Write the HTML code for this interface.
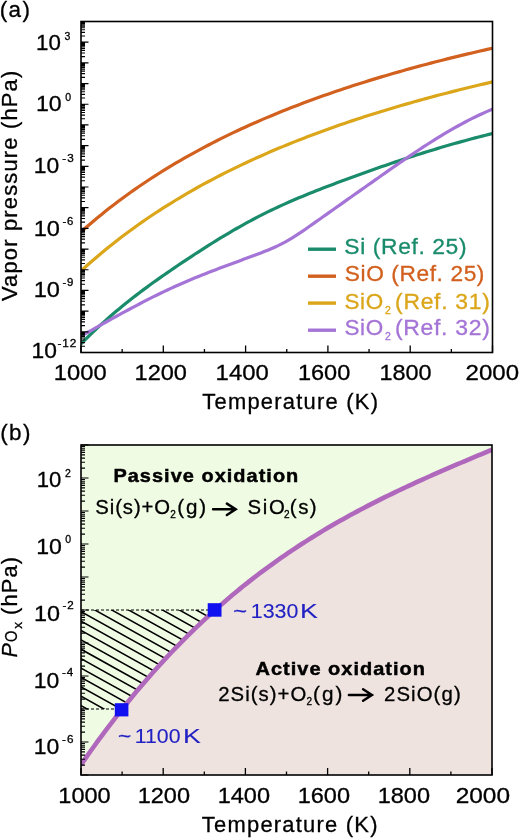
<!DOCTYPE html><html><head><meta charset="utf-8"><style>html,body{margin:0;padding:0;background:#fff;}svg{display:block;}text{font-family:"Liberation Sans",Arial,sans-serif;stroke:currentColor;stroke-width:0.3px;}</style></head><body>
<svg width="520" height="839" viewBox="0 0 520 839">
<rect width="520" height="839" fill="#fff"/>
<clipPath id="ca"><rect x="81.0" y="21.5" width="411.5" height="331.0"/></clipPath>
<g fill="none" stroke-linejoin="round" stroke-width="3.2" clip-path="url(#ca)">
<polyline stroke="#d2601e" points="81,231.88 85.11,228.24 89.23,224.68 93.34,221.18 97.46,217.75 101.58,214.39 105.69,211.09 109.81,207.85 113.92,204.67 118.03,201.55 122.15,198.49 126.27,195.48 130.38,192.52 134.5,189.62 138.61,186.77 142.72,183.97 146.84,181.22 150.95,178.51 155.07,175.85 159.19,173.23 163.3,170.66 167.42,168.13 171.53,165.64 175.64,163.2 179.76,160.79 183.88,158.42 187.99,156.09 192.11,153.79 196.22,151.53 200.33,149.31 204.45,147.12 208.56,144.96 212.68,142.84 216.79,140.74 220.91,138.68 225.03,136.65 229.14,134.65 233.25,132.68 237.37,130.74 241.49,128.82 245.6,126.94 249.72,125.08 253.83,123.24 257.94,121.43 262.06,119.65 266.18,117.89 270.29,116.16 274.4,114.44 278.52,112.76 282.63,111.09 286.75,109.45 290.87,107.83 294.98,106.22 299.1,104.65 303.21,103.09 307.32,101.55 311.44,100.03 315.56,98.53 319.67,97.05 323.78,95.59 327.9,94.14 332.01,92.72 336.13,91.31 340.25,89.92 344.36,88.54 348.48,87.19 352.59,85.85 356.7,84.52 360.82,83.21 364.94,81.92 369.05,80.64 373.17,79.38 377.28,78.13 381.39,76.89 385.51,75.67 389.62,74.47 393.74,73.27 397.86,72.09 401.97,70.93 406.08,69.78 410.2,68.64 414.31,67.51 418.43,66.39 422.55,65.29 426.66,64.2 430.77,63.12 434.89,62.05 439,61 443.12,59.95 447.24,58.92 451.35,57.9 455.46,56.88 459.58,55.88 463.69,54.89 467.81,53.91 471.93,52.94 476.04,51.98 480.15,51.03 484.27,50.09 488.38,49.15 492.5,48.23"/>
<polyline stroke="#dba61a" points="81,270.95 85.11,267.2 89.23,263.53 93.34,259.94 97.46,256.41 101.58,252.94 105.69,249.55 109.81,246.21 113.92,242.94 118.03,239.73 122.15,236.58 126.27,233.48 130.38,230.44 134.5,227.46 138.61,224.52 142.72,221.64 146.84,218.8 150.95,216.02 155.07,213.28 159.19,210.59 163.3,207.94 167.42,205.34 171.53,202.78 175.64,200.26 179.76,197.78 183.88,195.34 187.99,192.94 192.11,190.58 196.22,188.25 200.33,185.96 204.45,183.71 208.56,181.49 212.68,179.3 216.79,177.15 220.91,175.03 225.03,172.94 229.14,170.88 233.25,168.85 237.37,166.85 241.49,164.88 245.6,162.94 249.72,161.02 253.83,159.13 257.94,157.27 262.06,155.44 266.18,153.63 270.29,151.84 274.4,150.08 278.52,148.34 282.63,146.63 286.75,144.93 290.87,143.27 294.98,141.62 299.1,139.99 303.21,138.39 307.32,136.8 311.44,135.24 315.56,133.7 319.67,132.17 323.78,130.67 327.9,129.18 332.01,127.72 336.13,126.27 340.25,124.83 344.36,123.42 348.48,122.02 352.59,120.64 356.7,119.28 360.82,117.93 364.94,116.6 369.05,115.29 373.17,113.98 377.28,112.7 381.39,111.43 385.51,110.17 389.62,108.93 393.74,107.7 397.86,106.49 401.97,105.29 406.08,104.1 410.2,102.93 414.31,101.77 418.43,100.62 422.55,99.49 426.66,98.37 430.77,97.25 434.89,96.16 439,95.07 443.12,93.99 447.24,92.93 451.35,91.88 455.46,90.84 459.58,89.8 463.69,88.78 467.81,87.78 471.93,86.78 476.04,85.79 480.15,84.81 484.27,83.84 488.38,82.88 492.5,81.93"/>
<polyline stroke="#1a8c6c" points="81,343.92 84.46,340.43 87.92,337 91.37,333.64 94.83,330.34 98.29,327.11 101.75,323.94 105.21,320.83 108.66,317.77 112.12,314.77 115.58,311.83 119.04,308.93 122.5,306.08 125.95,303.28 129.41,300.52 132.87,297.81 136.33,295.14 139.79,292.5 143.24,289.9 146.7,287.34 150.16,284.81 153.62,282.31 157.08,279.84 160.53,277.4 163.99,274.98 167.45,272.58 170.91,270.21 174.37,267.85 177.82,265.51 181.28,263.19 184.74,260.88 188.2,258.58 191.66,256.3 195.11,254.03 198.57,251.79 202.03,249.56 205.49,247.35 208.95,245.16 212.4,242.99 215.86,240.85 219.32,238.73 222.78,236.63 226.24,234.55 229.69,232.51 233.15,230.48 236.61,228.49 240.07,226.52 243.53,224.59 246.98,222.68 250.44,220.81 253.9,218.97 257.36,217.16 260.82,215.38 264.27,213.64 267.73,211.93 271.19,210.25 274.65,208.61 278.11,206.99 281.56,205.4 285.02,203.84 288.48,202.31 291.94,200.8 295.39,199.31 298.85,197.84 302.31,196.4 305.77,194.98 309.23,193.57 312.68,192.18 316.14,190.81 319.6,189.45 323.06,188.11 326.52,186.78 329.97,185.46 333.43,184.15 336.89,182.85 340.35,181.55 343.81,180.27 347.26,178.99 350.72,177.71 354.18,176.45 357.64,175.19 361.1,173.93 364.55,172.69 368.01,171.45 371.47,170.22 374.93,169 378.39,167.79 381.84,166.59 385.3,165.39 388.76,164.21 392.22,163.03 395.68,161.86 399.13,160.7 402.59,159.55 406.05,158.41 409.51,157.28 412.97,156.16 416.42,155.05 419.88,153.95 423.34,152.86 426.8,151.78 430.26,150.72 433.71,149.66 437.17,148.62 440.63,147.58 444.09,146.56 447.55,145.55 451,144.55 454.46,143.56 457.92,142.59 461.38,141.63 464.84,140.68 468.29,139.74 471.75,138.82 475.21,137.91 478.67,137.01 482.13,136.13 485.58,135.26 489.04,134.4 492.5,133.56"/>
<polyline stroke="#a474d6" points="81,336.19 84.46,334.22 87.92,332.25 91.37,330.29 94.83,328.33 98.29,326.37 101.75,324.43 105.21,322.49 108.66,320.56 112.12,318.64 115.58,316.73 119.04,314.83 122.5,312.95 125.95,311.07 129.41,309.22 132.87,307.37 136.33,305.55 139.79,303.74 143.24,301.95 146.7,300.17 150.16,298.42 153.62,296.69 157.08,294.98 160.53,293.29 163.99,291.63 167.45,289.99 170.91,288.38 174.37,286.79 177.82,285.23 181.28,283.7 184.74,282.2 188.2,280.72 191.66,279.27 195.11,277.84 198.57,276.44 202.03,275.05 205.49,273.68 208.95,272.33 212.4,271 215.86,269.67 219.32,268.36 222.78,267.06 226.24,265.77 229.69,264.48 233.15,263.2 236.61,261.92 240.07,260.64 243.53,259.37 246.98,258.09 250.44,256.8 253.9,255.51 257.36,254.22 260.82,252.9 264.27,251.56 267.73,250.17 271.19,248.72 274.65,247.2 278.11,245.59 281.56,243.88 285.02,242.06 288.48,240.11 291.94,238.04 295.39,235.88 298.85,233.64 302.31,231.32 305.77,228.95 309.23,226.54 312.68,224.11 316.14,221.66 319.6,219.22 323.06,216.78 326.52,214.33 329.97,211.89 333.43,209.45 336.89,207.01 340.35,204.57 343.81,202.12 347.26,199.68 350.72,197.24 354.18,194.8 357.64,192.36 361.1,189.92 364.55,187.48 368.01,185.04 371.47,182.59 374.93,180.15 378.39,177.72 381.84,175.28 385.3,172.85 388.76,170.43 392.22,168.02 395.68,165.61 399.13,163.22 402.59,160.85 406.05,158.48 409.51,156.14 412.97,153.81 416.42,151.51 419.88,149.22 423.34,146.96 426.8,144.72 430.26,142.51 433.71,140.33 437.17,138.18 440.63,136.06 444.09,133.98 447.55,131.93 451,129.91 454.46,127.94 457.92,126 461.38,124.1 464.84,122.25 468.29,120.44 471.75,118.68 475.21,116.97 478.67,115.31 482.13,113.69 485.58,112.14 489.04,110.63 492.5,109.18"/>
</g>
<line x1="308" y1="249.2" x2="336" y2="249.2" stroke="#1a8c6c" stroke-width="3.4"/>
<line x1="308" y1="276.2" x2="336" y2="276.2" stroke="#d2601e" stroke-width="3.4"/>
<line x1="308" y1="303.1" x2="336" y2="303.1" stroke="#dba61a" stroke-width="3.4"/>
<line x1="308" y1="330.2" x2="336" y2="330.2" stroke="#a474d6" stroke-width="3.4"/>
<text transform="translate(344.37,254.4) scale(1.0624,1)" font-size="21.5" fill="#1a8c6c" color="#1a8c6c" letter-spacing="0.57">Si (Ref. 25)</text>
<text transform="translate(344.78,281.3) scale(1.0573,1)" font-size="21.5" fill="#d2601e" color="#d2601e" letter-spacing="0.56">SiO (Ref. 25)</text>
<text transform="translate(344.39,308.6) scale(1.0449,1)" font-size="21.5" fill="#dba61a" color="#dba61a" letter-spacing="0.73">SiO</text>
<text transform="translate(385.09,313.5)" font-size="10.5" fill="#dba61a" color="#dba61a">2</text>
<text transform="translate(395.12,308.6) scale(1.0677,1)" font-size="21.5" fill="#dba61a" color="#dba61a" letter-spacing="0.64">(Ref. 31)</text>
<text transform="translate(344.39,335.4) scale(1.0449,1)" font-size="21.5" fill="#a474d6" color="#a474d6" letter-spacing="0.73">SiO</text>
<text transform="translate(385.09,340.2)" font-size="10.5" fill="#a474d6" color="#a474d6">2</text>
<text transform="translate(394.92,335.4) scale(1.0689,1)" font-size="21.5" fill="#a474d6" color="#a474d6" letter-spacing="0.65">(Ref. 32)</text>
<g stroke="#000" fill="none">
<path stroke-width="1.15" d="M81 352.5h7.5 M81 346.27h4 M81 342.63h4 M81 340.04h4 M81 338.04h4 M81 336.4h4 M81 335.02h4 M81 333.82h4 M81 332.76h4 M81 331.81h7.5 M81 325.58h4 M81 321.94h4 M81 319.36h4 M81 317.35h4 M81 315.71h4 M81 314.33h4 M81 313.13h4 M81 312.07h4 M81 311.12h7.5 M81 304.9h4 M81 301.25h4 M81 298.67h4 M81 296.67h4 M81 295.03h4 M81 293.64h4 M81 292.44h4 M81 291.38h4 M81 290.44h7.5 M81 284.21h4 M81 280.57h4 M81 277.98h4 M81 275.98h4 M81 274.34h4 M81 272.95h4 M81 271.75h4 M81 270.7h4 M81 269.75h7.5 M81 263.52h4 M81 259.88h4 M81 257.29h4 M81 255.29h4 M81 253.65h4 M81 252.27h4 M81 251.07h4 M81 250.01h4 M81 249.06h7.5 M81 242.83h4 M81 239.19h4 M81 236.61h4 M81 234.6h4 M81 232.96h4 M81 231.58h4 M81 230.38h4 M81 229.32h4 M81 228.38h7.5 M81 222.15h4 M81 218.5h4 M81 215.92h4 M81 213.92h4 M81 212.28h4 M81 210.89h4 M81 209.69h4 M81 208.63h4 M81 207.69h7.5 M81 201.46h4 M81 197.82h4 M81 195.23h4 M81 193.23h4 M81 191.59h4 M81 190.2h4 M81 189h4 M81 187.95h4 M81 187h7.5 M81 180.77h4 M81 177.13h4 M81 174.54h4 M81 172.54h4 M81 170.9h4 M81 169.52h4 M81 168.32h4 M81 167.26h4 M81 166.31h7.5 M81 160.08h4 M81 156.44h4 M81 153.86h4 M81 151.85h4 M81 150.21h4 M81 148.83h4 M81 147.63h4 M81 146.57h4 M81 145.62h7.5 M81 139.4h4 M81 135.75h4 M81 133.17h4 M81 131.17h4 M81 129.53h4 M81 128.14h4 M81 126.94h4 M81 125.88h4 M81 124.94h7.5 M81 118.71h4 M81 115.07h4 M81 112.48h4 M81 110.48h4 M81 108.84h4 M81 107.45h4 M81 106.25h4 M81 105.2h4 M81 104.25h7.5 M81 98.02h4 M81 94.38h4 M81 91.79h4 M81 89.79h4 M81 88.15h4 M81 86.77h4 M81 85.57h4 M81 84.51h4 M81 83.56h7.5 M81 77.33h4 M81 73.69h4 M81 71.11h4 M81 69.1h4 M81 67.46h4 M81 66.08h4 M81 64.88h4 M81 63.82h4 M81 62.88h7.5 M81 56.65h4 M81 53h4 M81 50.42h4 M81 48.42h4 M81 46.78h4 M81 45.39h4 M81 44.19h4 M81 43.13h4 M81 42.19h7.5 M81 35.96h4 M81 32.32h4 M81 29.73h4 M81 27.73h4 M81 26.09h4 M81 24.7h4 M81 23.5h4 M81 22.45h4 M81 21.5h7.5"/>
<path stroke-width="1.3" d="M81 352.5v-7 M122.15 352.5v-3.5 M163.3 352.5v-7 M204.45 352.5v-3.5 M245.6 352.5v-7 M286.75 352.5v-3.5 M327.9 352.5v-7 M369.05 352.5v-3.5 M410.2 352.5v-7 M451.35 352.5v-3.5 M492.5 352.5v-7"/>
</g>
<rect x="81.0" y="21.5" width="411.5" height="331.0" stroke-width="1.6" stroke="#000" fill="none"/>
<text transform="translate(36.03,50.3) scale(1.0372,1)" font-size="21.5">10</text>
<text transform="translate(64.39,39.8)" font-size="10.5">3</text>
<text transform="translate(35.97,111.4) scale(1.0744,1)" font-size="21.5">10</text>
<text transform="translate(65.36,100.5)" font-size="10.5">0</text>
<text transform="translate(33.68,172.6) scale(1.0651,1)" font-size="21.5">10</text>
<text transform="translate(62.37,162) scale(1.1152,1)" font-size="10.5" letter-spacing="0.87">-3</text>
<text transform="translate(33.63,236) scale(1.0977,1)" font-size="21.5">10</text>
<text transform="translate(62.49,225.1) scale(1.0856,1)" font-size="10.5" letter-spacing="0.67">-6</text>
<text transform="translate(33.63,297.2) scale(1.0977,1)" font-size="21.5">10</text>
<text transform="translate(62.49,286.2) scale(1.0893,1)" font-size="10.5" letter-spacing="0.69">-9</text>
<text transform="translate(31.49,358.1) scale(1.0605,1)" font-size="21.5">10</text>
<text transform="translate(57.57,347.2) scale(1.1243,1)" font-size="10.5" letter-spacing="0.78">-12</text>
<text transform="translate(53.82,379.8) scale(1.0789,1)" font-size="22">1000</text>
<text transform="translate(134.53,379.8) scale(1.0724,1)" font-size="22">1200</text>
<text transform="translate(215.61,379.8) scale(1.0853,1)" font-size="22">1400</text>
<text transform="translate(297.93,379.8) scale(1.0703,1)" font-size="22">1600</text>
<text transform="translate(379.44,379.8) scale(1.066,1)" font-size="22">1800</text>
<text transform="translate(465.6,379.8) scale(1.0918,1)" font-size="22">2000</text>
<text transform="translate(202.26,408.8) scale(1.02,1)" font-size="21.5" letter-spacing="1.22">Temperature (K)</text>
<text transform="translate(17.3,301.11) rotate(-90) scale(1.0196,1)" font-size="21.5" letter-spacing="1.16">Vapor pressure (hPa)</text>
<text transform="translate(-0.35,17.2) scale(1.0217,1)" font-size="22" letter-spacing="1.46">(a)</text>
<rect x="81.0" y="445.0" width="411.0" height="330.0" fill="#efe3df"/>
<polygon fill="#f0fbe4" points="81,445 492,445 492,449.69 488.55,451.13 485.09,452.57 481.64,454.02 478.18,455.46 474.73,456.91 471.28,458.37 467.82,459.82 464.37,461.28 460.92,462.75 457.46,464.22 454.01,465.7 450.55,467.18 447.1,468.67 443.65,470.16 440.19,471.67 436.74,473.18 433.29,474.7 429.83,476.23 426.38,477.77 422.92,479.32 419.47,480.88 416.02,482.46 412.56,484.04 409.11,485.63 405.66,487.24 402.2,488.86 398.75,490.5 395.29,492.15 391.84,493.81 388.39,495.49 384.93,497.18 381.48,498.89 378.03,500.62 374.57,502.36 371.12,504.13 367.66,505.9 364.21,507.7 360.76,509.52 357.3,511.36 353.85,513.21 350.39,515.09 346.94,516.99 343.49,518.9 340.03,520.85 336.58,522.81 333.13,524.79 329.67,526.8 326.22,528.84 322.76,530.9 319.31,532.98 315.86,535.09 312.4,537.22 308.95,539.38 305.5,541.57 302.04,543.78 298.59,546.02 295.13,548.29 291.68,550.59 288.23,552.92 284.77,555.28 281.32,557.67 277.87,560.09 274.41,562.54 270.96,565.02 267.5,567.54 264.05,570.08 260.6,572.67 257.14,575.28 253.69,577.93 250.24,580.61 246.78,583.33 243.33,586.08 239.87,588.87 236.42,591.7 232.97,594.57 229.51,597.47 226.06,600.41 222.61,603.39 219.15,606.4 215.7,609.46 212.24,612.56 208.79,615.69 205.34,618.87 201.88,622.09 198.43,625.36 194.97,628.66 191.52,632.01 188.07,635.4 184.61,638.84 181.16,642.32 177.71,645.84 174.25,649.41 170.8,653.03 167.34,656.69 163.89,660.4 160.44,664.16 156.98,667.96 153.53,671.82 150.08,675.72 146.62,679.67 143.17,683.67 139.71,687.73 136.26,691.83 132.81,695.98 129.35,700.19 125.9,704.45 122.45,708.76 118.99,713.13 115.54,717.55 112.08,722.02 108.63,726.55 105.18,731.13 101.72,735.77 98.27,740.46 94.82,745.22 91.36,750.03 87.91,754.89 84.45,759.82 81,764.8 81,775"/>
<clipPath id="ch"><polygon points="81,610 215.09,610 212.24,612.56 208.79,615.69 205.34,618.87 201.88,622.09 198.43,625.36 194.97,628.66 191.52,632.01 188.07,635.4 184.61,638.84 181.16,642.32 177.71,645.84 174.25,649.41 170.8,653.03 167.34,656.69 163.89,660.4 160.44,664.16 156.98,667.96 153.53,671.82 150.08,675.72 146.62,679.67 143.17,683.67 139.71,687.73 136.26,691.83 132.81,695.98 129.35,700.19 125.9,704.45 122.45,708.76 122.26,709 81,709"/></clipPath>
<path clip-path="url(#ch)" stroke="#000" stroke-width="1.55" fill="none" d="M70 708.91L260 814.55 M70 699.52L260 805.16 M70 690.12L260 795.76 M70 680.72L260 786.36 M70 671.33L260 776.97 M70 661.93L260 767.57 M70 652.53L260 758.17 M70 643.14L260 748.78 M70 633.74L260 739.38 M70 624.34L260 729.98 M70 614.95L260 720.59 M70 605.55L260 711.19 M70 596.16L260 701.8 M70 586.76L260 692.4 M70 577.36L260 683 M70 567.97L260 673.61 M70 558.57L260 664.21 M70 549.17L260 654.81 M70 539.78L260 645.42 M70 530.38L260 636.02 M70 520.98L260 626.62 M70 511.59L260 617.23 M70 502.19L260 607.83 M70 492.8L260 598.44 M70 483.4L260 589.04 M70 474L260 579.64"/>
<path stroke="#000" stroke-width="1" stroke-dasharray="3 2" fill="none" d="M81 610H215.09 M81 709H122.26"/>
<clipPath id="cb"><rect x="81.0" y="445.0" width="411.0" height="330.0"/></clipPath>
<polyline clip-path="url(#cb)" fill="none" stroke="#b068bc" stroke-width="4.6" stroke-linejoin="round" points="81,764.8 84.45,759.82 87.91,754.89 91.36,750.03 94.82,745.22 98.27,740.46 101.72,735.77 105.18,731.13 108.63,726.55 112.08,722.02 115.54,717.55 118.99,713.13 122.45,708.76 125.9,704.45 129.35,700.19 132.81,695.98 136.26,691.83 139.71,687.73 143.17,683.67 146.62,679.67 150.08,675.72 153.53,671.82 156.98,667.96 160.44,664.16 163.89,660.4 167.34,656.69 170.8,653.03 174.25,649.41 177.71,645.84 181.16,642.32 184.61,638.84 188.07,635.4 191.52,632.01 194.97,628.66 198.43,625.36 201.88,622.09 205.34,618.87 208.79,615.69 212.24,612.56 215.7,609.46 219.15,606.4 222.61,603.39 226.06,600.41 229.51,597.47 232.97,594.57 236.42,591.7 239.87,588.87 243.33,586.08 246.78,583.33 250.24,580.61 253.69,577.93 257.14,575.28 260.6,572.67 264.05,570.08 267.5,567.54 270.96,565.02 274.41,562.54 277.87,560.09 281.32,557.67 284.77,555.28 288.23,552.92 291.68,550.59 295.13,548.29 298.59,546.02 302.04,543.78 305.5,541.57 308.95,539.38 312.4,537.22 315.86,535.09 319.31,532.98 322.76,530.9 326.22,528.84 329.67,526.8 333.13,524.79 336.58,522.81 340.03,520.85 343.49,518.9 346.94,516.99 350.39,515.09 353.85,513.21 357.3,511.36 360.76,509.52 364.21,507.7 367.66,505.9 371.12,504.13 374.57,502.36 378.03,500.62 381.48,498.89 384.93,497.18 388.39,495.49 391.84,493.81 395.29,492.15 398.75,490.5 402.2,488.86 405.66,487.24 409.11,485.63 412.56,484.04 416.02,482.46 419.47,480.88 422.92,479.32 426.38,477.77 429.83,476.23 433.29,474.7 436.74,473.18 440.19,471.67 443.65,470.16 447.1,468.67 450.55,467.18 454.01,465.7 457.46,464.22 460.92,462.75 464.37,461.28 467.82,459.82 471.28,458.37 474.73,456.91 478.18,455.46 481.64,454.02 485.09,452.57 488.55,451.13 492,449.69"/>
<rect x="114.8" y="703.2" width="13.6" height="13.2" fill="#1010f0"/>
<rect x="207.7" y="603.2" width="13.8" height="13.5" fill="#1010f0"/>
<g stroke="#000" fill="none">
<rect x="81.0" y="445.0" width="411.0" height="330.0" stroke-width="1.6"/>
<path stroke-width="1.15" d="M81 775h7.5 M81 765.07h4 M81 759.25h4 M81 755.13h4 M81 751.93h4 M81 749.32h4 M81 747.11h4 M81 745.2h4 M81 743.51h4 M81 742h7.5 M81 732.07h4 M81 726.25h4 M81 722.13h4 M81 718.93h4 M81 716.32h4 M81 714.11h4 M81 712.2h4 M81 710.51h4 M81 709h7.5 M81 699.07h4 M81 693.25h4 M81 689.13h4 M81 685.93h4 M81 683.32h4 M81 681.11h4 M81 679.2h4 M81 677.51h4 M81 676h7.5 M81 666.07h4 M81 660.25h4 M81 656.13h4 M81 652.93h4 M81 650.32h4 M81 648.11h4 M81 646.2h4 M81 644.51h4 M81 643h7.5 M81 633.07h4 M81 627.25h4 M81 623.13h4 M81 619.93h4 M81 617.32h4 M81 615.11h4 M81 613.2h4 M81 611.51h4 M81 610h7.5 M81 600.07h4 M81 594.25h4 M81 590.13h4 M81 586.93h4 M81 584.32h4 M81 582.11h4 M81 580.2h4 M81 578.51h4 M81 577h7.5 M81 567.07h4 M81 561.25h4 M81 557.13h4 M81 553.93h4 M81 551.32h4 M81 549.11h4 M81 547.2h4 M81 545.51h4 M81 544h7.5 M81 534.07h4 M81 528.25h4 M81 524.13h4 M81 520.93h4 M81 518.32h4 M81 516.11h4 M81 514.2h4 M81 512.51h4 M81 511h7.5 M81 501.07h4 M81 495.25h4 M81 491.13h4 M81 487.93h4 M81 485.32h4 M81 483.11h4 M81 481.2h4 M81 479.51h4 M81 478h7.5 M81 468.07h4 M81 462.25h4 M81 458.13h4 M81 454.93h4 M81 452.32h4 M81 450.11h4 M81 448.2h4 M81 446.51h4 M81 445h7.5"/>
<path stroke-width="1.3" d="M81 775v-7 M122.1 775v-3.5 M163.2 775v-7 M204.3 775v-3.5 M245.4 775v-7 M286.5 775v-3.5 M327.6 775v-7 M368.7 775v-3.5 M409.8 775v-7 M450.9 775v-3.5 M492 775v-7"/>
</g>
<text transform="translate(36.64,487.2) scale(1.0279,1)" font-size="21.5">10</text>
<text transform="translate(64.94,476.8)" font-size="10.5">2</text>
<text transform="translate(36.17,553.6) scale(1.0744,1)" font-size="21.5">10</text>
<text transform="translate(65.26,543)" font-size="10.5">0</text>
<text transform="translate(34.04,620.5) scale(1.0884,1)" font-size="21.5">10</text>
<text transform="translate(62.48,609.4) scale(1.111,1)" font-size="10.5" letter-spacing="0.83">-2</text>
<text transform="translate(33.67,687.5) scale(1.0698,1)" font-size="21.5">10</text>
<text transform="translate(62.08,676.2) scale(1.1077,1)" font-size="10.5" letter-spacing="0.83">-4</text>
<text transform="translate(33.67,753.8) scale(1.0698,1)" font-size="21.5">10</text>
<text transform="translate(62.07,743) scale(1.1152,1)" font-size="10.5" letter-spacing="0.87">-6</text>
<text transform="translate(58.33,802.9) scale(1.0703,1)" font-size="22">1000</text>
<text transform="translate(137.63,802.9) scale(1.0703,1)" font-size="22">1200</text>
<text transform="translate(217.63,802.9) scale(1.0703,1)" font-size="22">1400</text>
<text transform="translate(297.63,802.9) scale(1.0703,1)" font-size="22">1600</text>
<text transform="translate(377.63,802.9) scale(1.0703,1)" font-size="22">1800</text>
<text transform="translate(455.68,802.9) scale(1.1109,1)" font-size="22">2000</text>
<text transform="translate(201.86,832.3) scale(1.0198,1)" font-size="21.5" letter-spacing="1.21">Temperature (K)</text>
<text transform="translate(0.15,439.6) scale(1.0217,1)" font-size="22" letter-spacing="1.46">(b)</text>
<text transform="translate(17.3,657.42) rotate(-90)" font-size="21.5" font-style="italic">P</text>
<text transform="translate(17.2,642.06) rotate(-90) scale(0.8848,1)" font-size="16.5">O</text>
<text transform="translate(21.7,628.74) rotate(-90) scale(1.0185,1)" font-size="13.5">x</text>
<text transform="translate(17.3,614.91) rotate(-90) scale(1.016,1)" font-size="21.5" letter-spacing="1.11">(hPa)</text>
<text transform="translate(113.4,481.8) scale(1.109,1)" font-size="18" font-weight="bold" letter-spacing="0.92" style="stroke-width:0.45px">Passive oxidation</text>
<text transform="translate(95.29,514) scale(1.0147,1)" font-size="20" letter-spacing="0.91">Si(s)+O</text>
<text transform="translate(170.3,518)" font-size="10">2</text>
<text transform="translate(177.26,514) scale(1.0293,1)" font-size="20" letter-spacing="1.78">(g)</text>
<path d="M213.1 509.3H235.5 M226.9 503.6L235.7 509.3L226.9 515" stroke="#000" stroke-width="2.5" fill="none" stroke-linejoin="miter" stroke-linecap="round"/>
<text transform="translate(247.58,514) scale(1.0181,1)" font-size="20" letter-spacing="1.59">SiO</text>
<text transform="translate(284.1,518)" font-size="10">2</text>
<text transform="translate(289.87,514) scale(1.0244,1)" font-size="20" letter-spacing="1.41">(s)</text>
<text transform="translate(255.5,675.4) scale(1.1105,1)" font-size="18" font-weight="bold" letter-spacing="0.91" style="stroke-width:0.45px">Active oxidation</text>
<text transform="translate(218.18,700.6) scale(1.0166,1)" font-size="20" letter-spacing="1.03">2Si(s)+O</text>
<text transform="translate(306.4,704.6)" font-size="10">2</text>
<text transform="translate(312.96,700.6) scale(1.0341,1)" font-size="20" letter-spacing="2.05">(g)</text>
<path d="M348.9 695H371.7 M363.1 689.3L371.9 695L363.1 700.7" stroke="#000" stroke-width="2.5" fill="none" stroke-linejoin="miter" stroke-linecap="round"/>
<text transform="translate(383.98,700.6) scale(1.0176,1)" font-size="20" letter-spacing="1.09">2SiO(g)</text>
<text transform="translate(233.24,617.9) scale(1.1255,1)" font-size="21" fill="#2222c4" color="#2222c4" style="stroke-width:0.25px">~</text>
<text transform="translate(250.8,617.9) scale(1.0425,1)" font-size="20.5" fill="#2222c4" color="#2222c4" style="stroke-width:0.1px">1330</text>
<text transform="translate(299.96,617.9) scale(1.3065,1)" font-size="20.5" fill="#2222c4" color="#2222c4" style="stroke-width:0.1px">K</text>
<text transform="translate(117.88,742.7) scale(1.0774,1)" font-size="21" fill="#2222c4" color="#2222c4" style="stroke-width:0.25px">~</text>
<text transform="translate(134.8,742.7) scale(1.0378,1)" font-size="20.5" fill="#2222c4" color="#2222c4" style="stroke-width:0.1px">1100</text>
<text transform="translate(183.06,742.7) scale(1.3065,1)" font-size="20.5" fill="#2222c4" color="#2222c4" style="stroke-width:0.1px">K</text>
</svg></body></html>
